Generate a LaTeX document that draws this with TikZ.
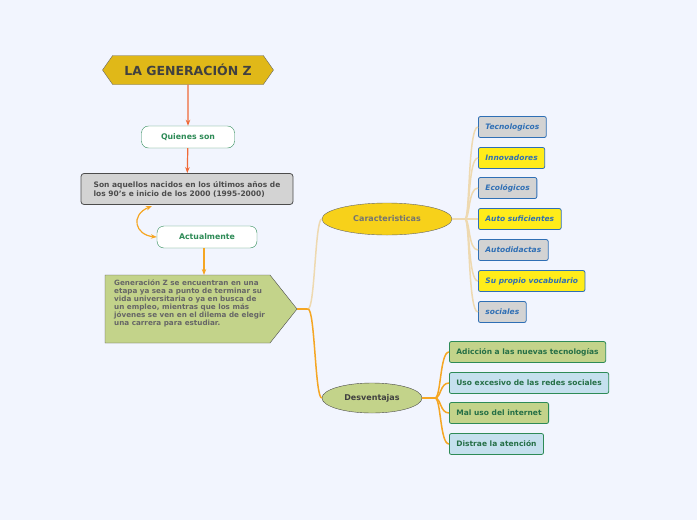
\documentclass[tikz,border=0pt]{standalone}
\usepackage{fontspec}
\setmainfont{DejaVu Sans}
\usetikzlibrary{shapes.geometric,shapes.symbols,arrows.meta}
\definecolor{bg}{HTML}{F2F5FE}
\definecolor{gold}{HTML}{E0B818}
\definecolor{ygold}{HTML}{F7D11A}
\definecolor{grn}{HTML}{2E8B57}
\definecolor{olive}{HTML}{C3D38A}
\definecolor{lgray}{HTML}{D3D3D3}
\definecolor{yel}{HTML}{FFEC1A}
\definecolor{lblue}{HTML}{C5E0EE}
\definecolor{bl}{HTML}{2F6FB5}
\definecolor{orng}{HTML}{F5A623}
\definecolor{red}{HTML}{F06A38}
\definecolor{tan}{HTML}{EED9B0}
\tikzset{
 every node/.style={font=\bfseries\fontsize{7.5}{9}\selectfont},
 pill/.style={draw=grn,fill=white,rounded corners=7pt,text=grn,minimum height=22pt,font=\bfseries\fontsize{7.8}{9}\selectfont},
 ch/.style={draw=bl,line width=0.8pt,rounded corners=2pt,text=bl,minimum height=21pt,anchor=west,inner xsep=7pt,font=\bfseries\itshape\fontsize{7.5}{9}\selectfont},
 dv/.style={draw=grn,line width=0.8pt,rounded corners=2pt,text=grn!80!black,minimum height=21pt,anchor=west,inner xsep=7pt},
 rarr/.style={draw=red,line width=1.2pt,-{Stealth[length=6pt]}},
 tl/.style={draw=tan,line width=1.5pt},
 ol/.style={draw=orng,line width=1.5pt}
}
\begin{document}
\begin{tikzpicture}[x=1pt,y=-1pt]
\fill[bg] (0,0) rectangle (697,520);
\useasboundingbox (0,0) rectangle (697,520);
\node[draw=black!60,fill=gold,signal,signal to=east and west,signal pointer angle=110,minimum width=171pt,minimum height=29pt,text=black!75,font=\bfseries\fontsize{12.5}{14}\selectfont] (t) at (188,70) {LA GENERACIÓN Z};
\node[pill,minimum width=93pt] (q) at (188,137) {Quienes son};
\node[draw=black!70,fill=lgray,line width=0.8pt,rounded corners=3pt,minimum width=212pt,minimum height=31pt,align=left,text=black!70] (s) at (187,189) {Son aquellos nacidos en los últimos años de\\los 90’s e inicio de los 2000 (1995-2000)};
\node[pill,minimum width=100pt] (a) at (207,237) {Actualmente};
\draw[draw=black!70,fill=olive] (105,275) -- (270,275) -- (297,309) -- (270,343) -- (105,343) -- cycle;
\coordinate (gt) at (297,309);
\node[align=left,text=black!60,anchor=north west,font=\bfseries\fontsize{7.2}{8}\selectfont,inner sep=0pt] (g) at (114,280) {Generación Z se encuentran en una\\etapa ya sea a punto de terminar su\\vida universitaria o ya en busca de\\un empleo, mientras que los más\\jóvenes se ven en el dilema de elegir\\una carrera para estudiar.};
\draw[rarr] (t) -- (q);
\draw[rarr] (q) -- (s);
\draw[orng,line width=1.2pt,{Stealth[length=6pt]}-{Stealth[length=6pt]}] (152,206) .. controls (130,215) and (135,235) .. (a.west);
\draw[orng,line width=1.2pt,-{Stealth[length=6pt]}] (a.south) ++(-3,0) -- (204,275);
\node[ellipse,draw=black!60,fill=ygold,minimum width=130pt,minimum height=32pt,text=black!55,font=\bfseries\fontsize{8}{9}\selectfont] (c) at (387,219) {Caracteristicas};
\node[ellipse,draw=black!70,fill=olive,minimum width=100pt,minimum height=30pt,text=black!75,font=\bfseries\fontsize{8}{9}\selectfont] (d) at (372,398) {Desventajas};
\coordinate (j) at (308,309);
\draw[ol] (gt) -- (j);
\draw[tl] (j) .. controls (315,309) and (315,219) .. (c.west);
\draw[ol] (j) .. controls (315,309) and (315,398) .. (d.west);
\coordinate (cj) at (465,219);
\draw[tl] (c.east) -- (cj);
\foreach \n/\t/\y/\f in {c1/Tecnologicos/127/lgray,c2/Innovadores/158/yel,c3/Ecológicos/188/lgray,c4/Auto suficientes/219/yel,c5/Autodidactas/250/lgray,c6/Su propio vocabulario/281/yel,c7/sociales/312/lgray}{
 \node[ch,fill=\f] (\n) at (478,\y) {\t};
 \draw[tl] (cj) .. controls (470,219) and (468,\y) .. (\n.west);
}
\coordinate (dj) at (435,398);
\draw[ol] (d.east) -- (dj);
\foreach \n/\t/\y/\f in {d1/Adicción a las nuevas tecnologías/352/olive,d2/Uso excesivo de las redes sociales/383/lblue,d3/Mal uso del internet/413/olive,d4/Distrae la atención/444/lblue}{
 \node[dv,fill=\f] (\n) at (449,\y) {\t};
 \draw[ol] (dj) .. controls (441,398) and (440,\y) .. (\n.west);
}
\end{tikzpicture}
\end{document}
